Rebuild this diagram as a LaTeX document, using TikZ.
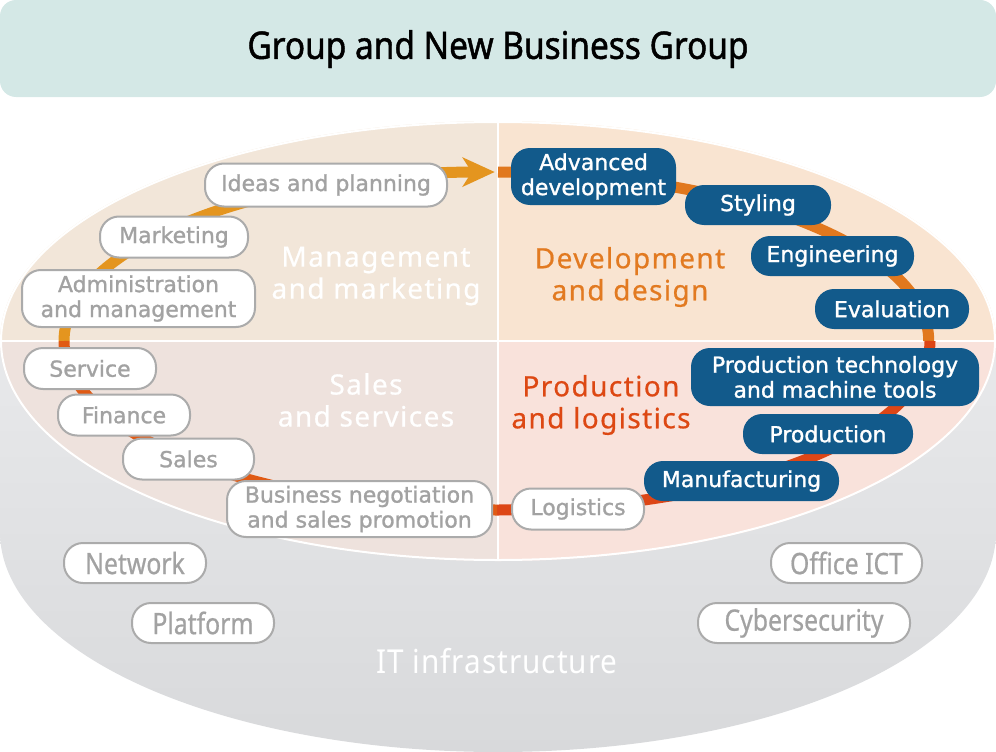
\documentclass[tikz,border=0pt]{standalone}
\usepackage{fontspec}
\setmainfont{DejaVu Sans}
\newfontfamily\nodefont[FakeBold=1.2]{DejaVu Sans}
\newfontfamily\lblfont[LetterSpace=5,FakeBold=0.6]{Noto Sans}
\newfontfamily\titlefont[FakeBold=1.2,FakeStretch=0.88]{Noto Sans}
\newfontfamily\infrafont[FakeStretch=0.84,FakeBold=0.6]{Noto Sans}
\newfontfamily\itfont[FakeStretch=0.9,LetterSpace=3]{Noto Sans}
\usetikzlibrary{arrows.meta}
\definecolor{titlebg}{HTML}{D4E8E6}
\definecolor{greyT}{HTML}{E8E9EB}
\definecolor{greyB}{HTML}{D8D9DB}
\definecolor{qUL}{HTML}{F2E6D9}
\definecolor{qUR}{HTML}{F9E4D1}
\definecolor{qLL}{HTML}{EEE2DD}
\definecolor{qLR}{HTML}{F9E2DB}
\definecolor{ringUL}{HTML}{E4951F}
\definecolor{ringUR}{HTML}{E1781E}
\definecolor{ringLR}{HTML}{DD4616}
\definecolor{ringLL}{HTML}{E05A14}
\definecolor{gborder}{HTML}{ABABAB}
\definecolor{gtext}{HTML}{A2A2A2}
\definecolor{bluebox}{HTML}{125A8B}
\definecolor{devorange}{HTML}{E27A21}
\definecolor{prodred}{HTML}{DD4813}
\tikzset{
  gbox/.style={draw=gborder, line width=2pt, fill=white, text=gtext,
    rounded corners=19pt, minimum height=41pt, inner sep=0pt, align=center,
    font=\nodefont\fontsize{22}{25}\selectfont},
  bbox/.style={fill=bluebox, text=white, rounded corners=19pt,
    minimum height=40pt, inner sep=0pt, align=center,
    font=\nodefont\fontsize{22}{25}\selectfont},
  ibox/.style={gbox, font=\infrafont\fontsize{29.5}{31}\selectfont},
  lbl/.style={align=center, font=\lblfont\fontsize{28}{32}\selectfont},
  ring/.style={line width=11pt},
}
\begin{document}
\begin{tikzpicture}[x=1pt,y=1pt]
\useasboundingbox (0,0) rectangle (996,-752);
% title bar
\fill[titlebg, rounded corners=16pt] (0,0) rectangle (996,-97);
\node[font=\titlefont\fontsize{38}{42}\selectfont, text=black] (title) at (498,-49) {Group and New Business Group};
% cylinder body
\shade[top color=greyT, bottom color=greyB] (0,-341) -- (0,-532)
  arc[start angle=180, end angle=360, x radius=498, y radius=220] -- (996,-341) -- cycle;
% top quadrants
\begin{scope}
  \clip (498,-341) ellipse [x radius=498, y radius=220];
  \fill[qUL] (0,-100) rectangle (498,-341);
  \fill[qUR] (498,-100) rectangle (996,-341);
  \fill[qLL] (0,-341) rectangle (498,-600);
  \fill[qLR] (498,-341) rectangle (996,-600);
\end{scope}
\draw[white, line width=2pt] (498,-341) ellipse [x radius=497, y radius=219];
\draw[white, line width=2pt] (498,-121) -- (498,-561);
\draw[white, line width=2pt] (0,-341) -- (996,-341);
% section labels
\node[lbl, text=white] (mgmt) at (376,-276) {Management\\and marketing};
\node[lbl, text=devorange] (dev) at (630,-277) {Development\\and design};
\node[lbl, text=white] (salesl) at (366,-400) {Sales\\and services};
\node[lbl, text=prodred] (prodl) at (601,-405) {Production\\and logistics};
\node[font=\itfont\fontsize{33}{36}\selectfont, text=white] (itl) at (497,-661) {IT infrastructure};
% ring
\coordinate (ringL) at (64,-341);
\coordinate (ringT) at (497,-172);
\coordinate (ringR) at (930,-341);
\coordinate (ringB) at (497,-510);
\draw[ring, ringUL, -{Stealth[length=32pt,width=29pt,inset=9pt]}] (ringL)
  arc[start angle=180, end angle=90.3, x radius=433, y radius=169];
\draw[ring, ringUR] (ringT) ++(1,0)
  arc[start angle=89.7, end angle=0, x radius=433, y radius=169];
\draw[ring, ringLR] (ringR)
  arc[start angle=0, end angle=-90, x radius=433, y radius=169];
\draw[ring, ringLL] (ringB)
  arc[start angle=270, end angle=180, x radius=433, y radius=169];
% grey process nodes
\node[gbox, minimum width=242pt, minimum height=43pt] (ideas) at (326,-185) {Ideas and planning};
\node[gbox, minimum width=148pt] (mkt) at (174,-237) {Marketing};
\node[gbox, minimum width=233pt, minimum height=57pt] (admin) at (138.5,-298.5) {Administration\\and management};
\node[gbox, minimum width=132pt] (service) at (90,-368.5) {Service};
\node[gbox, minimum width=132pt] (finance) at (124,-415) {Finance};
\node[gbox, minimum width=131pt] (sales) at (188.5,-459) {Sales};
\node[gbox, minimum width=265pt, minimum height=56pt] (biz) at (359.5,-509) {Business negotiation\\and sales promotion};
\node[gbox, minimum width=132pt] (logi) at (578,-509) {Logistics};
% blue process nodes
\node[bbox, minimum width=195pt] (manu) at (741.5,-481) {Manufacturing};
\node[bbox, minimum width=170pt] (prod) at (828,-434) {Production};
\node[bbox, minimum width=288pt, minimum height=58pt] (ptech) at (835,-377) {Production technology\\and machine tools};
\node[bbox, minimum width=154pt] (eval) at (892,-309) {Evaluation};
\node[bbox, minimum width=163pt] (eng) at (832.5,-256) {Engineering};
\node[bbox, minimum width=146pt] (styl) at (758,-205) {Styling};
\node[bbox, minimum width=165pt, minimum height=57pt] (adv) at (593.5,-176.5) {Advanced\\development};
% infrastructure nodes
\node[ibox, minimum width=142pt, minimum height=40pt] (net) at (135,-563) {Network};
\node[ibox, minimum width=142pt, minimum height=40pt] (plat) at (203,-623) {Platform};
\node[ibox, minimum width=151pt, minimum height=40pt] (office) at (846.5,-563) {Office ICT};
\node[ibox, minimum width=212pt, minimum height=40pt] (cyber) at (804,-623) {Cybersecurity};
\end{tikzpicture}
\end{document}
